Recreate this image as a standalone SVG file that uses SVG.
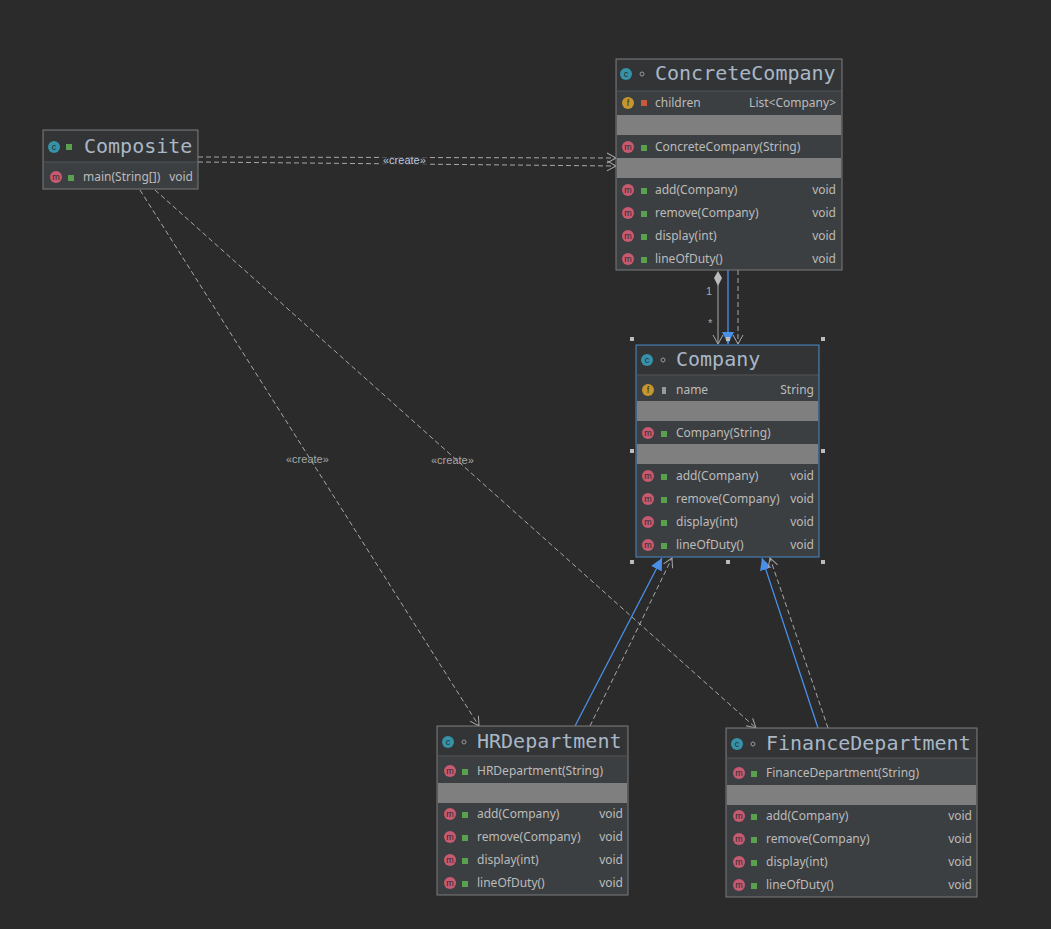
<svg xmlns="http://www.w3.org/2000/svg" width="1051" height="929" viewBox="0 0 1051 929">
<style>
.box{fill:#3c3f41;stroke:#7a7a7a;stroke-width:1}
.hdr{fill:#323436}
.sep{fill:#7f7f7f}
.t{font-family:"DejaVu Sans Mono",monospace;font-size:20px;fill:#a9b7c6}
.r{font-family:"Noto Sans","Liberation Sans",sans-serif;font-size:12px;fill:#bbbbbb}
.ic{fill:#c75a70}
.icf{fill:#c7952d}
.icc{fill:#3592a8}
.il{font-family:"Liberation Sans",sans-serif;font-size:9px;fill:#2b2b2b;text-anchor:middle}
.lk{fill:#59a14f}
.dash{stroke:#a8a8a8;stroke-width:1;stroke-dasharray:5,3;fill:none}
.sol{stroke:#a8a8a8;stroke-width:1;fill:none}
.blue{stroke:#4a8fe7;stroke-width:1.3;fill:none}
.lbl{font-family:"Liberation Sans",sans-serif;font-size:11px;fill:#a8a8a8}
.h{fill:#bbbbbb}
</style>
<defs>
<marker id="open" markerWidth="12" markerHeight="12" refX="10" refY="6" orient="auto" markerUnits="userSpaceOnUse"><path d="M1,1 L10,6 L1,11" fill="none" stroke="#a8a8a8" stroke-width="1"/></marker>
<marker id="tri" markerWidth="14" markerHeight="14" refX="12" refY="7" orient="auto" markerUnits="userSpaceOnUse"><path d="M0,1 L12,7 L0,13 Z" fill="#4a8fe7"/></marker>
</defs>
<rect width="1051" height="929" fill="#2b2b2b"/>

<g id="connectors">
<path class="dash" d="M198,157 L616,158" marker-end="url(#open)"/>
<path class="dash" d="M198,162 L616,166" marker-end="url(#open)"/>
<rect x="382" y="155" width="48" height="11" fill="#2b2b2b" opacity="0.7"/>
<text class="lbl" x="383" y="164" fill="#b8c8e0" style="fill:#b8c8e0">«create»</text>
<path class="dash" d="M140,190 L479,726" marker-end="url(#open)"/>
<text class="lbl" x="286" y="463">«create»</text>
<path class="dash" d="M155,190 L756,728" marker-end="url(#open)"/>
<text class="lbl" x="431" y="464">«create»</text>
<path class="sol" d="M718,285 L718,344" marker-end="url(#open)"/>
<path d="M718,271 L722,278 L718,286 L714,278 Z" fill="#bbbbbb"/>
<text class="lbl" x="706" y="295">1</text>
<text class="lbl" x="708" y="327">*</text>
<path class="blue" d="M728,270 L728,344" marker-end="url(#tri)"/>
<path class="dash" d="M738,270 L738,344" marker-end="url(#open)"/>
<path class="blue" d="M575,726 L662,558" marker-end="url(#tri)"/>
<path class="dash" d="M590,726 L672,558" marker-end="url(#open)"/>
<path class="blue" d="M818,728 L762,558" marker-end="url(#tri)"/>
<path class="dash" d="M828,728 L770,558" marker-end="url(#open)"/>
</g>

<g id="ConcreteCompany">
<rect class="box" x="616" y="59" width="226" height="211"/>
<rect class="hdr" x="617" y="60" width="224" height="31"/>
<line x1="617" y1="91" x2="841" y2="91" stroke="#555"/>
<circle class="icc" cx="626" cy="74" r="6"/><text class="il" x="626" y="77">c</text>
<circle cx="642" cy="74" r="2" fill="none" stroke="#999"/>
<text class="t" x="655" y="80">ConcreteCompany</text>
<circle class="icf" cx="628" cy="103" r="6"/><text class="il" x="628" y="106">f</text>
<rect x="641" y="100" width="6" height="6" fill="#c75a3a"/>
<text class="r" x="655" y="107">children</text><text class="r" x="836" y="107" text-anchor="end">List&lt;Company&gt;</text>
<rect class="sep" x="617" y="115" width="224" height="20"/>
<circle class="ic" cx="628" cy="147" r="6"/><text class="il" x="628" y="150">m</text>
<rect class="lk" x="641" y="145" width="6" height="6"/>
<text class="r" x="655" y="151">ConcreteCompany(String)</text>
<rect class="sep" x="617" y="158" width="224" height="20"/>
<circle class="ic" cx="628" cy="190" r="6"/><text class="il" x="628" y="193">m</text><rect class="lk" x="641" y="188" width="6" height="6"/>
<text class="r" x="655" y="194">add(Company)</text><text class="r" x="836" y="194" text-anchor="end">void</text>
<circle class="ic" cx="628" cy="213" r="6"/><text class="il" x="628" y="216">m</text><rect class="lk" x="641" y="211" width="6" height="6"/>
<text class="r" x="655" y="217">remove(Company)</text><text class="r" x="836" y="217" text-anchor="end">void</text>
<circle class="ic" cx="628" cy="236" r="6"/><text class="il" x="628" y="239">m</text><rect class="lk" x="641" y="234" width="6" height="6"/>
<text class="r" x="655" y="240">display(int)</text><text class="r" x="836" y="240" text-anchor="end">void</text>
<circle class="ic" cx="628" cy="259" r="6"/><text class="il" x="628" y="262">m</text><rect class="lk" x="641" y="257" width="6" height="6"/>
<text class="r" x="655" y="263">lineOfDuty()</text><text class="r" x="836" y="263" text-anchor="end">void</text>
</g>

<g id="Composite">
<rect class="box" x="43" y="130" width="155" height="59"/>
<rect class="hdr" x="44" y="131" width="153" height="31"/>
<line x1="44" y1="162" x2="197" y2="162" stroke="#555"/>
<circle class="icc" cx="54" cy="147" r="6"/><text class="il" x="54" y="150">c</text>
<rect class="lk" x="66" y="144" width="6" height="6"/>
<text class="t" x="84" y="153">Composite</text>
<circle class="ic" cx="56" cy="177" r="6"/><text class="il" x="56" y="180">m</text>
<rect class="lk" x="68" y="175" width="6" height="6"/>
<text class="r" x="83" y="181">main(String[])</text><text class="r" x="193" y="181" text-anchor="end">void</text>
</g>

<g id="Company">
<rect x="636" y="345" width="183" height="212" fill="#3c3f41" stroke="#4a88c7"/>
<rect class="hdr" x="637" y="346" width="181" height="29"/>
<line x1="637" y1="375" x2="818" y2="375" stroke="#555"/>
<circle class="icc" cx="647" cy="360" r="6"/><text class="il" x="647" y="363">c</text>
<circle cx="663" cy="360" r="2" fill="none" stroke="#999"/>
<text class="t" x="676" y="366">Company</text>
<circle class="icf" cx="648" cy="390" r="6"/><text class="il" x="648" y="393">f</text>
<rect x="662" y="387" width="4" height="7" fill="#999"/>
<text class="r" x="676" y="394">name</text><text class="r" x="814" y="394" text-anchor="end">String</text>
<rect class="sep" x="637" y="401" width="181" height="20"/>
<circle class="ic" cx="648" cy="433" r="6"/><text class="il" x="648" y="436">m</text><rect class="lk" x="661" y="431" width="6" height="6"/>
<text class="r" x="676" y="437">Company(String)</text>
<rect class="sep" x="637" y="444" width="181" height="20"/>
<circle class="ic" cx="648" cy="476" r="6"/><text class="il" x="648" y="479">m</text><rect class="lk" x="661" y="474" width="6" height="6"/>
<text class="r" x="676" y="480">add(Company)</text><text class="r" x="814" y="480" text-anchor="end">void</text>
<circle class="ic" cx="648" cy="499" r="6"/><text class="il" x="648" y="502">m</text><rect class="lk" x="661" y="497" width="6" height="6"/>
<text class="r" x="676" y="503">remove(Company)</text><text class="r" x="814" y="503" text-anchor="end">void</text>
<circle class="ic" cx="648" cy="522" r="6"/><text class="il" x="648" y="525">m</text><rect class="lk" x="661" y="520" width="6" height="6"/>
<text class="r" x="676" y="526">display(int)</text><text class="r" x="814" y="526" text-anchor="end">void</text>
<circle class="ic" cx="648" cy="545" r="6"/><text class="il" x="648" y="548">m</text><rect class="lk" x="661" y="543" width="6" height="6"/>
<text class="r" x="676" y="549">lineOfDuty()</text><text class="r" x="814" y="549" text-anchor="end">void</text>
<rect class="h" x="630" y="337" width="4" height="4"/><rect class="h" x="726" y="337" width="4" height="4"/><rect class="h" x="821" y="337" width="4" height="4"/>
<rect class="h" x="630" y="449" width="4" height="4"/><rect class="h" x="821" y="449" width="4" height="4"/>
<rect class="h" x="630" y="560" width="4" height="4"/><rect class="h" x="726" y="560" width="4" height="4"/><rect class="h" x="821" y="560" width="4" height="4"/>
</g>

<g id="HRDepartment">
<rect class="box" x="437" y="726" width="191" height="169"/>
<rect class="hdr" x="438" y="727" width="189" height="29"/>
<line x1="438" y1="756" x2="627" y2="756" stroke="#555"/>
<circle class="icc" cx="448" cy="742" r="6"/><text class="il" x="448" y="745">c</text>
<circle cx="464" cy="742" r="2" fill="none" stroke="#999"/>
<text class="t" x="477" y="748">HRDepartment</text>
<circle class="ic" cx="450" cy="771" r="6"/><text class="il" x="450" y="774">m</text><rect class="lk" x="462" y="769" width="6" height="6"/>
<text class="r" x="477" y="775">HRDepartment(String)</text>
<rect class="sep" x="438" y="783" width="189" height="20"/>
<circle class="ic" cx="450" cy="814" r="6"/><text class="il" x="450" y="817">m</text><rect class="lk" x="462" y="812" width="6" height="6"/>
<text class="r" x="477" y="818">add(Company)</text><text class="r" x="623" y="818" text-anchor="end">void</text>
<circle class="ic" cx="450" cy="837" r="6"/><text class="il" x="450" y="840">m</text><rect class="lk" x="462" y="835" width="6" height="6"/>
<text class="r" x="477" y="841">remove(Company)</text><text class="r" x="623" y="841" text-anchor="end">void</text>
<circle class="ic" cx="450" cy="860" r="6"/><text class="il" x="450" y="863">m</text><rect class="lk" x="462" y="858" width="6" height="6"/>
<text class="r" x="477" y="864">display(int)</text><text class="r" x="623" y="864" text-anchor="end">void</text>
<circle class="ic" cx="450" cy="883" r="6"/><text class="il" x="450" y="886">m</text><rect class="lk" x="462" y="881" width="6" height="6"/>
<text class="r" x="477" y="887">lineOfDuty()</text><text class="r" x="623" y="887" text-anchor="end">void</text>
</g>

<g id="FinanceDepartment">
<rect class="box" x="726" y="728" width="251" height="169"/>
<rect class="hdr" x="727" y="729" width="249" height="29"/>
<line x1="727" y1="758" x2="976" y2="758" stroke="#555"/>
<circle class="icc" cx="737" cy="744" r="6"/><text class="il" x="737" y="747">c</text>
<circle cx="753" cy="744" r="2" fill="none" stroke="#999"/>
<text class="t" x="766" y="750">FinanceDepartment</text>
<circle class="ic" cx="739" cy="773" r="6"/><text class="il" x="739" y="776">m</text><rect class="lk" x="751" y="771" width="6" height="6"/>
<text class="r" x="766" y="777">FinanceDepartment(String)</text>
<rect class="sep" x="727" y="785" width="249" height="20"/>
<circle class="ic" cx="739" cy="816" r="6"/><text class="il" x="739" y="819">m</text><rect class="lk" x="751" y="814" width="6" height="6"/>
<text class="r" x="766" y="820">add(Company)</text><text class="r" x="972" y="820" text-anchor="end">void</text>
<circle class="ic" cx="739" cy="839" r="6"/><text class="il" x="739" y="842">m</text><rect class="lk" x="751" y="837" width="6" height="6"/>
<text class="r" x="766" y="843">remove(Company)</text><text class="r" x="972" y="843" text-anchor="end">void</text>
<circle class="ic" cx="739" cy="862" r="6"/><text class="il" x="739" y="865">m</text><rect class="lk" x="751" y="860" width="6" height="6"/>
<text class="r" x="766" y="866">display(int)</text><text class="r" x="972" y="866" text-anchor="end">void</text>
<circle class="ic" cx="739" cy="885" r="6"/><text class="il" x="739" y="888">m</text><rect class="lk" x="751" y="883" width="6" height="6"/>
<text class="r" x="766" y="889">lineOfDuty()</text><text class="r" x="972" y="889" text-anchor="end">void</text>
</g>
</svg>
